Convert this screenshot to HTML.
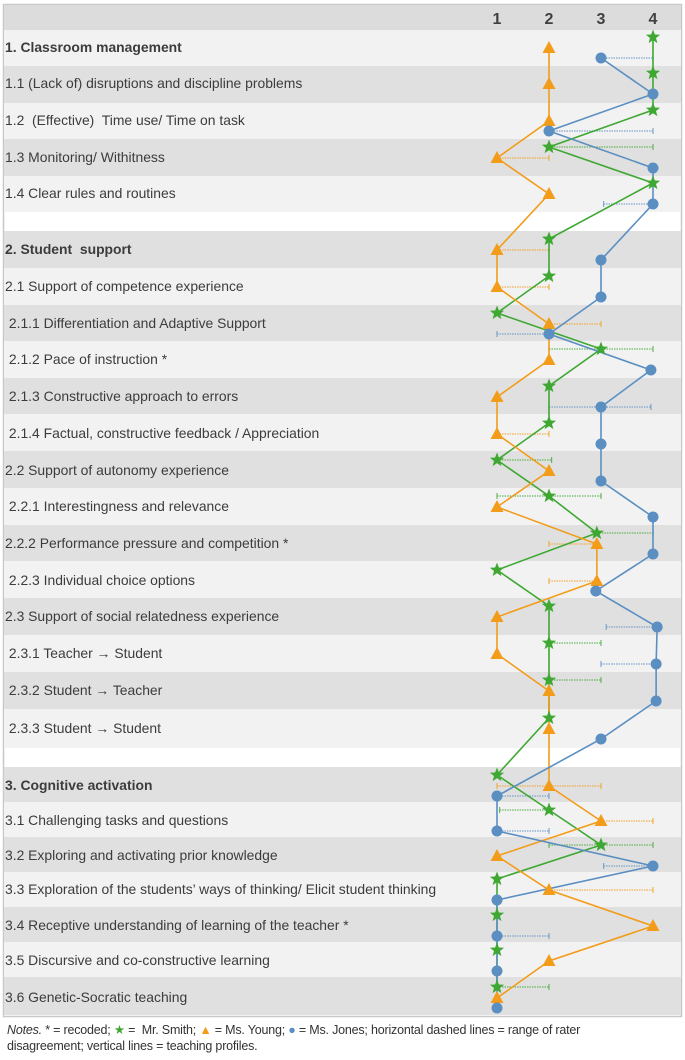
<!DOCTYPE html>
<html><head><meta charset="utf-8"><style>
body{margin:0;background:#fff;width:685px;height:1055px;overflow:hidden}
svg text{font-family:"Liberation Sans",sans-serif}
</style></head><body>
<svg id="chart" width="685" height="1055" xmlns="http://www.w3.org/2000/svg"></svg>
<script>
// ---- data ----
const items = ["1. Classroom management","1.1 (Lack of) disruptions and discipline problems","1.2  (Effective)  Time use/ Time on task","1.3 Monitoring/ Withitness","1.4 Clear rules and routines",
"2. Student  support","2.1 Support of competence experience"," 2.1.1 Differentiation and Adaptive Support"," 2.1.2 Pace of instruction *"," 2.1.3 Constructive approach to errors"," 2.1.4 Factual, constructive feedback / Appreciation","2.2 Support of autonomy experience"," 2.2.1 Interestingness and relevance","2.2.2 Performance pressure and competition *"," 2.2.3 Individual choice options","2.3 Support of social relatedness experience"," 2.3.1 Teacher \u2192 Student"," 2.3.2 Student \u2192 Teacher"," 2.3.3 Student \u2192 Student",
"3. Cognitive activation","3.1 Challenging tasks and questions","3.2 Exploring and activating prior knowledge","3.3 Exploration of the students\u2019 ways of thinking/ Elicit student thinking","3.4 Receptive understanding of learning of the teacher *","3.5 Discursive and co-constructive learning","3.6 Genetic-Socratic teaching"];
const boldItems = [0,5,19];
const xTicks = [1,2,3,4];
const smithValues = [4,4,4,2,4, 2,2,1,3,2,2,1,2,2.92,1,2,2,2,2, 1,2,3,1,1,1,1];
const youngValues = [2,2,2,1,2, 1,1,2,2,1,1,2,1,2.92,2.92,1,1,2,2, 2,3,1,2,4,2,1];
const jonesValues = [3,4,2,4,4, 3,3,2,3.96,3,3,3,4,4,2.9,4.08,4.06,4.06,3, 1,1,4,1,1,1,1];
const smithRanges = [[3,2,4],[8,2,4],[11,1,2.05],[12,1,3],[13,2.92,4],[16,2,3],[17,2,3],[20,1.05,2],[21,2,4],[25,1,2]];
const youngRanges = [[3,1,2],[5,1,2],[6,1,2],[7,2,3],[10,1,2],[13,2,2.92],[14,2,2.92],[19,1,3],[20,3,4],[22,2,4]];
const jonesRanges = [[0,3,4],[2,2,4],[4,3.05,4],[7,1,2],[9,2,3.96],[15,3.1,4.08],[16,3,4.06],[19,1,2],[20,1,2],[21,3.05,4],[23,1,2]];

// ---- layout ----
const rowCenters = [47,83,120,157,193,249,286,323,359,396,433,470,506,543,580,616,653,690,728,785,820,855,889,925,960,997];
const rowTops = [30,66,103,139,176,231,268,305,341,378,414,451,488,525,561,598,635,672,709,767,802,837,872,907,942,977];
const rowBottoms = [66,103,139,176,212,268,305,341,378,414,451,488,525,561,598,635,672,709,748,802,837,872,907,942,977,1015];
const NS="http://www.w3.org/2000/svg";
const svg=document.getElementById('chart');
function mk(tag,attrs,parent){const e=document.createElementNS(NS,tag);for(const k in attrs)e.setAttribute(k,attrs[k]);(parent||svg).appendChild(e);return e;}
const xScale=v=>497+(v-1)*52;
const yScale=(i,off)=>rowCenters[i]+off;

const panel=mk('rect',{x:3.5,y:4.5,width:678,height:1012,fill:'#fff',stroke:'#c8c8c8','stroke-width':1.5});


const hdr=mk('rect',{x:4,y:5,width:677,height:25,fill:'#dcdcdc'});


xTicks.forEach(t=>{
  const tx=mk('text',{x:xScale(t),y:24,'text-anchor':'middle','font-size':16,'font-weight':'bold',fill:'#404040'});
  tx.textContent=t;
  
  
});
let dark=false;
items.forEach((lab,i)=>{
  if(i===5||i===19) dark=true;
  const b=mk('rect',{x:4,y:rowTops[i],width:677,height:rowBottoms[i]-rowTops[i],fill:dark?'#e0e0e0':'#f2f2f2'});
  
  
  dark=!dark;
  const t=mk('text',{x:5,y:rowCenters[i]+5,'font-size':13.9,fill:'#3c3c3c','font-weight':boldItems.includes(i)?'bold':'normal'});
  t.setAttribute('style','white-space:pre');
  t.textContent=lab;
  
  
});

const series=[
 {name:'smith',vals:smithValues,ranges:smithRanges,color:'#3ea832',off:-10,marker:'star'},
 {name:'young',vals:youngValues,ranges:youngRanges,color:'#f39c1a',off:1,marker:'tri'},
 {name:'jones',vals:jonesValues,ranges:jonesRanges,color:'#5b8fc2',off:11,marker:'circle'}
];
series.forEach(s=>{
  s.ranges.forEach(r=>{
    const y=yScale(r[0],s.off), x1=xScale(r[1]), x2=xScale(r[2]);
    const g=mk('g',{stroke:s.color,'stroke-width':1.2,opacity:0.75});
    
    
    mk('line',{x1:x1,y1:y,x2:x2,y2:y,'stroke-dasharray':'1.5 1'},g);
    mk('line',{x1:x1,y1:y-3,x2:x1,y2:y+3},g);
    mk('line',{x1:x2,y1:y-3,x2:x2,y2:y+3},g);
  });
});
function star(cx,cy,R){let p=[];for(let k=0;k<10;k++){const r=k%2?R*0.42:R;const a=-Math.PI/2+k*Math.PI/5;p.push((cx+r*Math.cos(a)).toFixed(1)+','+(cy+r*Math.sin(a)).toFixed(1));}return p.join(' ');}
series.forEach(s=>{
  const pts=s.vals.map((v,i)=>xScale(v)+','+yScale(i,s.off)).join(' ');
  const pl=mk('polyline',{points:pts,fill:'none',stroke:s.color,'stroke-width':1.6});
  
  
});
series.forEach(s=>{
  s.vals.forEach((v,i)=>{
    const x=xScale(v), y=yScale(i,s.off); let m;
    if(s.marker==='star') m=mk('polygon',{points:star(x,y,7.5),fill:s.color});
    else if(s.marker==='tri') m=mk('polygon',{points:`${x},${y-7} ${x-6.5},${y+5} ${x+6.5},${y+5}`,fill:s.color});
    else m=mk('circle',{cx:x,cy:y,r:5.5,fill:s.color});
    
    
  });
});
</script>
<div style="position:absolute;left:7px;top:1022px;width:585px;font:12.5px 'Liberation Sans',sans-serif;color:#333;line-height:16px;letter-spacing:-0.2px">
<i>Notes.</i> * = recoded; <span style="color:#3ea832">&#9733;</span> =&nbsp; Mr. Smith; <span style="color:#f39c1a">&#9650;</span> = Ms. Young; <span style="color:#5b8fc2">&#9679;</span> = Ms. Jones; horizontal dashed lines = range of rater disagreement; vertical lines = teaching profiles.</div>
</body></html>
